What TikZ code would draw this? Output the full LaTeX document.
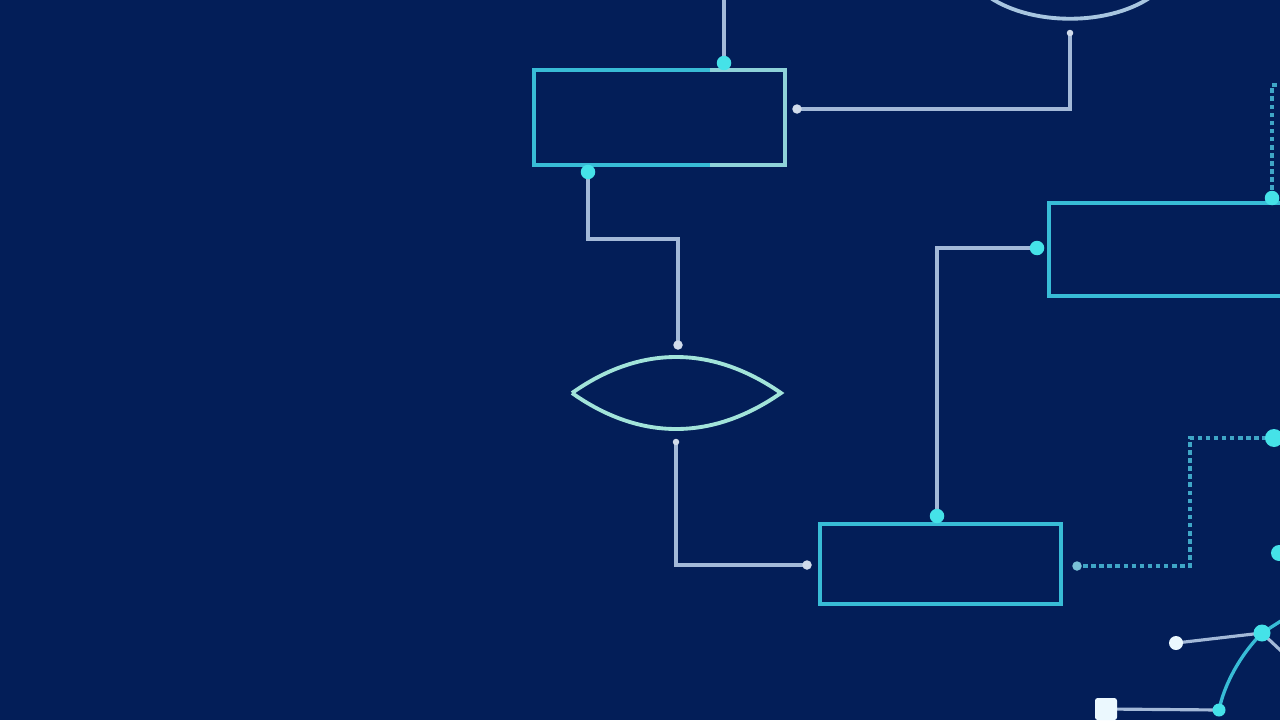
\documentclass[tikz,border=0pt]{standalone}
\usetikzlibrary{calc}
\definecolor{bg}{HTML}{031E58}
\definecolor{cyanline}{HTML}{38BCD6}
\definecolor{paleline}{HTML}{A3B9D8}
\definecolor{cyandot}{HTML}{45E2E8}
\definecolor{lensline}{HTML}{A2E4DA}
\definecolor{lenstwo}{HTML}{A8C6E0}
\definecolor{dotline}{HTML}{3FA6C6}
\definecolor{paleright}{HTML}{8ED2D8}
\begin{document}
\begin{tikzpicture}[x=0.02cm,y=-0.02cm,
  box/.style={draw=cyanline, line width=2.2pt, inner sep=0pt, outer sep=0pt},
  conn/.style={draw=paleline, line width=1.8pt},
  dotconn/.style={draw=dotline, line width=1.9pt, dash pattern=on 2.6pt off 2pt},
  bigdot/.style={circle, fill=cyandot, inner sep=0pt, minimum size=0.29cm},
  smalldot/.style={circle, fill=paleline!50!white, inner sep=0pt, minimum size=0.19cm},
  whitedot/.style={circle, fill=white!92!cyan, inner sep=0pt, minimum size=0.28cm},
  lens/.style={line width=2.2pt}]
\fill[bg] (0,0) rectangle (1280,720);
\useasboundingbox (0,0) rectangle (1280,720);
\clip (0,0) rectangle (1280,720);

% boxes
\node[box, minimum width=5.02cm, minimum height=1.9cm] (boxA) at (659.5,117.5) {};
\begin{scope}
\clip (710,40) rectangle (810,190);
\draw[draw=paleright, line width=2.2pt] (boxA.north west) rectangle (boxA.south east);
\end{scope}
\node[box, minimum width=4.82cm, minimum height=1.6cm] (boxB) at (940.5,564) {};
\node[box, minimum width=5.02cm, minimum height=1.86cm] (boxC) at (1174.5,249.5) {};

% lenses
\draw[lens, draw=lensline] (572,393) .. controls (640,345) and (712,345) .. (781,393)
  .. controls (712,441) and (640,441) .. (572,393);
\draw[lens, draw=lenstwo] (985,-6) .. controls (1028,27) and (1112,27) .. (1155,-6);

% coordinates
\coordinate (topA) at (724,-10);
\coordinate (m1) at (633,239);
\coordinate (c1) at (1295,85);
\coordinate (m2) at (1190,500);
\coordinate (ur) at (1295,612);
\coordinate (dr) at (1295,664);

% connectors
\draw[conn] (topA) -- (724,63);
\draw[conn] (588,172) |- (m1) -| (678,345);
\draw[conn] (676,442) |- (807,565);
\draw[conn] (937,516) |- (1037,248);
\draw[conn] (1070,33) |- (797,109);
\draw[dotconn] (1272,198) |- (c1);
\draw[dotconn] (1075,566) -| (m2) |- (1274,438);

% network
\draw[conn] (1176,643) -- (1262,633);
\draw[conn] (1262,633) -- (dr);
\draw[conn] (1106,709) -- (1219,710);
\draw[draw=cyanline, line width=1.9pt] (ur) -- (1262,633) .. controls (1240,655) and (1224,685) .. (1219,710);

% dots
\node[bigdot] (dAtop) at (724,63) {};
\node[bigdot] (dAbot) at (588,172) {};
\node[smalldot] (l1top) at (678,345) {};
\node[smalldot, minimum size=0.13cm] (l1bot) at (676,442) {};
\node[smalldot] (dBleft) at (807,565) {};
\node[bigdot] (dBtop) at (937,516) {};
\node[bigdot] (dCleft) at (1037,248) {};
\node[bigdot] (dCtop) at (1272,198) {};
\node[smalldot] (dAright) at (797,109) {};
\node[smalldot, minimum size=0.13cm] (l2bot) at (1070,33) {};
\node[smalldot, fill=dotline!70!white] (dstart) at (1077,566) {};
\node[bigdot, minimum size=0.36cm] (dend) at (1274,438) {};
\node[bigdot, minimum size=0.32cm] (dside) at (1279,553) {};
\node[whitedot] (w1) at (1176,643) {};
\node[bigdot, minimum size=0.34cm] (n1) at (1262,633) {};
\node[bigdot, minimum size=0.26cm] (n2) at (1219,710) {};
\node[fill=white!92!cyan, rounded corners=1.5pt, inner sep=0pt, minimum size=0.44cm] (sq) at (1106,709) {};
\end{tikzpicture}
\end{document}
